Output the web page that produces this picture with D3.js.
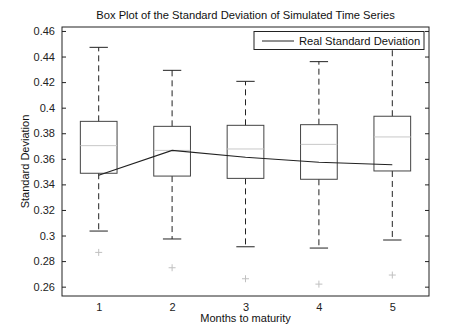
<!DOCTYPE html>
<html>
<head>
<meta charset="utf-8">
<script src="https://cdn.jsdelivr.net/npm/d3@7"></script>
<style>
  body { margin: 0; background: #fff; }
  svg { font-family: "Liberation Sans", Arial, sans-serif; }
</style>
</head>
<body>
<svg id="chart" width="474" height="336"></svg>
<script>
// months to maturity
const months = [1, 2, 3, 4, 5];
// box statistics of the simulated standard deviations
const whiskerLow = [0.3035, 0.2973, 0.2912, 0.2902, 0.2965];
const q1 = [0.3487, 0.3465, 0.3447, 0.3440, 0.3505];
const medians = [0.3703, 0.3666, 0.3677, 0.3713, 0.3771];
const q3 = [0.3893, 0.3854, 0.3862, 0.3867, 0.3933];
const whiskerHigh = [0.4472, 0.4292, 0.4206, 0.4360, 0.4520];
const outliers = [0.2868, 0.2748, 0.2662, 0.2620, 0.2691];
// observed standard deviation
const realSD = [0.3471, 0.3666, 0.3612, 0.3573, 0.3554];
const yTicks = [0.26, 0.28, 0.3, 0.32, 0.34, 0.36, 0.38, 0.4, 0.42, 0.44, 0.46];

const margin = { top: 27, right: 45, bottom: 40, left: 62 };
const width = 474, height = 336;
const iw = width - margin.left - margin.right;
const ih = height - margin.top - margin.bottom;

const svg = d3.select('#chart');
const g = svg.append('g').attr('transform', `translate(${margin.left},${margin.top})`);

const x = d3.scaleLinear().domain([0.5, 5.5]).range([0, iw]);
const y = d3.scaleLinear().domain([0.2527, 0.4631]).range([ih, 0]);

const boxHalf = x(1.25) - x(1);
const capHalf = x(1.125) - x(1);

const stats = months.map((m, i) => ({
  m, lo: whiskerLow[i], q1: q1[i], med: medians[i], q3: q3[i],
  hi: whiskerHigh[i], out: outliers[i]
}));

const boxes = g.selectAll('g.box').data(stats).enter()
  .append('g').attr('class', 'box');

// dashed whiskers
boxes.append('line')
  .attr('x1', d => x(d.m)).attr('x2', d => x(d.m))
  .attr('y1', d => y(d.q3)).attr('y2', d => y(d.hi))
  .attr('stroke', '#222').attr('stroke-dasharray', '6,4');
boxes.append('line')
  .attr('x1', d => x(d.m)).attr('x2', d => x(d.m))
  .attr('y1', d => y(d.q1)).attr('y2', d => y(d.lo))
  .attr('stroke', '#222').attr('stroke-dasharray', '6,4');

// whisker caps
['lo', 'hi'].forEach(k => {
  boxes.append('line')
    .attr('x1', d => x(d.m) - capHalf).attr('x2', d => x(d.m) + capHalf)
    .attr('y1', d => y(d[k])).attr('y2', d => y(d[k]))
    .attr('stroke', '#222');
});

boxes.append('rect')
  .attr('x', d => x(d.m) - boxHalf)
  .attr('width', boxHalf * 2)
  .attr('y', d => y(d.q3))
  .attr('height', d => y(d.q1) - y(d.q3))
  .attr('fill', 'none').attr('stroke', '#444');

boxes.append('line')
  .attr('x1', d => x(d.m) - boxHalf).attr('x2', d => x(d.m) + boxHalf)
  .attr('y1', d => y(d.med)).attr('y2', d => y(d.med))
  .attr('stroke', '#c8c8c8');

// outliers as plus markers
boxes.append('path')
  .attr('d', d => {
    const cx = x(d.m), cy = y(d.out), s = 3.5;
    return `M${cx - s},${cy}H${cx + s}M${cx},${cy - s}V${cy + s}`;
  })
  .attr('stroke', '#c0c0c0').attr('fill', 'none');

// real standard deviation line
const line = d3.line().x((d, i) => x(months[i])).y(d => y(d));
g.append('path').datum(realSD)
  .attr('d', line).attr('fill', 'none').attr('stroke', '#222').attr('stroke-width', 1.1);

// axes frame with inward ticks on both sides
const yAxisL = d3.axisLeft(y).tickValues(yTicks).tickSizeInner(-4).tickSizeOuter(0)
  .tickPadding(7).tickFormat(d3.format('~g'));
const yAxisR = d3.axisRight(y).tickValues(yTicks).tickSizeInner(-4).tickSizeOuter(0)
  .tickFormat('');
const xAxisB = d3.axisBottom(x).tickValues(months).tickSize(0).tickPadding(7)
  .tickFormat(d3.format('d'));

const gl = g.append('g').call(yAxisL);
const gr = g.append('g').attr('transform', `translate(${iw},0)`).call(yAxisR);
const gb = g.append('g').attr('transform', `translate(0,${ih})`).call(xAxisB);
[gl, gr, gb].forEach(a => {
  a.select('.domain').remove();
  a.selectAll('line').attr('stroke', '#222');
  a.selectAll('text').attr('fill', '#222').style('font-size', '11px')
    .style('font-family', '"Liberation Sans", Arial, sans-serif');
});

g.append('rect').attr('width', iw).attr('height', ih)
  .attr('fill', 'none').attr('stroke', '#222');

// legend in the top-right corner
const legend = g.append('g').attr('transform', 'translate(192,4.5)');
legend.append('rect').attr('width', 170).attr('height', 18)
  .attr('fill', '#fff').attr('stroke', '#222');
legend.append('line').attr('x1', 8).attr('x2', 40).attr('y1', 9.5).attr('y2', 9.5)
  .attr('stroke', '#222');
legend.append('text').attr('x', 45).attr('y', 13.5).text('Real Standard Deviation')
  .style('font-size', '11.2px').attr('fill', '#111');

// titles
svg.append('text').attr('x', margin.left + iw / 2).attr('y', 19)
  .attr('text-anchor', 'middle').style('font-size', '11.2px').attr('fill', '#111')
  .text('Box Plot of the Standard Deviation of Simulated Time Series');
svg.append('text').attr('x', margin.left + iw / 2).attr('y', 322)
  .attr('text-anchor', 'middle').style('font-size', '11px').attr('fill', '#111')
  .text('Months to maturity');
svg.append('text')
  .attr('transform', `translate(29,${margin.top + ih / 2}) rotate(-90)`)
  .attr('text-anchor', 'middle').style('font-size', '11px').attr('fill', '#111')
  .text('Standard Deviation');
</script>
</body>
</html>
